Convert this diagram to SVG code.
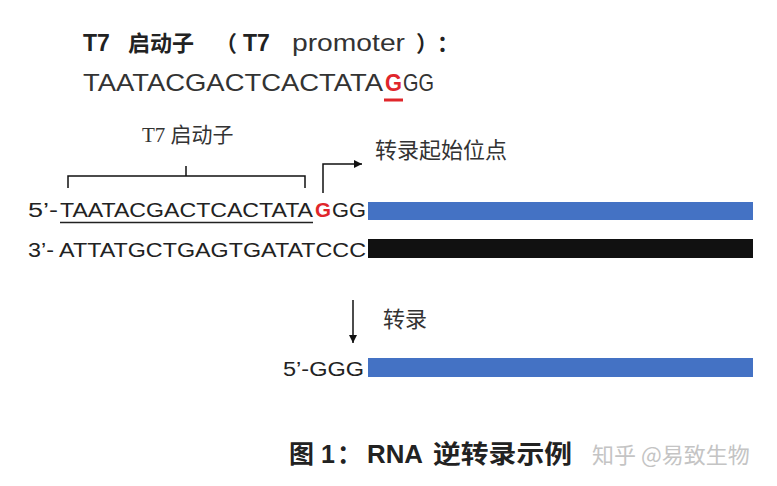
<svg xmlns="http://www.w3.org/2000/svg" width="777" height="486" viewBox="0 0 777 486">
<defs>
<style>
.s{font-family:"Liberation Sans","Noto Sans CJK SC",sans-serif;fill:#222}
.cjk{font-family:"Noto Sans CJK SC","Liberation Sans",sans-serif;fill:#222}
.b{font-weight:bold}
.red{fill:#e0262b;font-weight:bold}
.ln{stroke:#111;stroke-width:1.5;fill:none}
.blue{fill:#4472c4}
</style>
<marker id="ah" viewBox="0 0 10 10" refX="10" refY="5" markerWidth="8" markerHeight="8" markerUnits="userSpaceOnUse" orient="auto">
<path d="M0,0 L10,5 L0,10 z" fill="#111"/>
</marker>
</defs>
<rect width="777" height="486" fill="#fff"/>

<g id="title">
<text class="s b" x="83" y="51" font-size="23" fill="#111">T7</text>
<text class="cjk b" x="128" y="51" font-size="22">启动子</text>
<text class="cjk b" x="215" y="51" font-size="22">（</text>
<text class="s b" x="243" y="51" font-size="23">T7</text>
<text class="s" x="292" y="51" font-size="24" textLength="113" lengthAdjust="spacingAndGlyphs" style="fill:#333">promoter</text>
<text class="cjk b" x="416" y="51" font-size="22">）</text>
<text class="cjk b" x="437" y="51" font-size="22">：</text>
</g>

<g id="sequence">
<text class="s" x="83" y="91" font-size="24" textLength="300" lengthAdjust="spacingAndGlyphs" style="fill:#333">TAATACGACTCACTATA</text>
<text class="s red" x="385" y="91" font-size="24" textLength="17" lengthAdjust="spacingAndGlyphs">G</text>
<text class="s" x="403" y="91" font-size="24" textLength="31" lengthAdjust="spacingAndGlyphs" style="fill:#333">GG</text>
<rect x="384" y="98.5" width="19" height="3" fill="#e0262b"/>
</g>

<g id="promoter-label">
<text x="142" y="142" font-size="21"><tspan font-family="Liberation Serif, serif" fill="#333">T7 </tspan><tspan class="cjk" style="fill:#333">启动子</tspan></text>
<path class="ln" d="M68,188 V176 H305 V188 M186,176 V166" stroke="#333"/>
</g>

<g id="coding-strand">
<text class="s" x="28" y="217" font-size="20" textLength="30" lengthAdjust="spacingAndGlyphs">5’-</text>
<text class="s" x="60" y="217" font-size="20" textLength="253" lengthAdjust="spacingAndGlyphs">TAATACGACTCACTATA</text>
<text class="s red" x="315" y="217" font-size="20" textLength="16" lengthAdjust="spacingAndGlyphs">G</text>
<text class="s" x="332" y="217" font-size="20" textLength="34" lengthAdjust="spacingAndGlyphs">GG</text>
<line x1="60" y1="222.5" x2="313" y2="222.5" stroke="#222" stroke-width="1.5"/>
<rect class="blue" x="368" y="202" width="385" height="18"/>
</g>

<g id="template-strand">
<text class="s" x="28" y="257" font-size="20" textLength="338" lengthAdjust="spacingAndGlyphs">3’- ATTATGCTGAGTGATATCCC</text>
<rect x="368" y="239" width="385" height="19" fill="#111"/>
</g>

<g id="tss-label">
<text class="cjk" x="375" y="158" font-size="22" style="fill:#333">转录起始位点</text>
</g>

<g id="transcript">
<text class="s" x="283" y="376" font-size="20" textLength="81" lengthAdjust="spacingAndGlyphs">5’-GGG</text>
<rect class="blue" x="368" y="358" width="385" height="19"/>
</g>

<g id="transcribe-label">
<text class="cjk" x="383" y="327" font-size="22" style="fill:#333">转录</text>
</g>

<g id="connectors">
<path class="ln" d="M323,193 V164 H362" marker-end="url(#ah)"/>
<path class="ln" d="M353,300 V343" marker-end="url(#ah)"/>
</g>

<g id="caption">
<text class="cjk b" x="289" y="463" font-size="25" fill="#111">图</text>
<text class="s b" x="321" y="463" font-size="25">1</text>
<text class="cjk b" x="337" y="463" font-size="25">：</text>
<text class="s b" x="367" y="463" font-size="25" textLength="56" lengthAdjust="spacingAndGlyphs">RNA</text>
<text class="cjk b" x="433" y="463" font-size="25" textLength="139" lengthAdjust="spacingAndGlyphs">逆转录示例</text>
<text class="cjk" x="592" y="463" font-size="22" style="fill:#c4c4c4">知乎 @易致生物</text>
</g>
</svg>
